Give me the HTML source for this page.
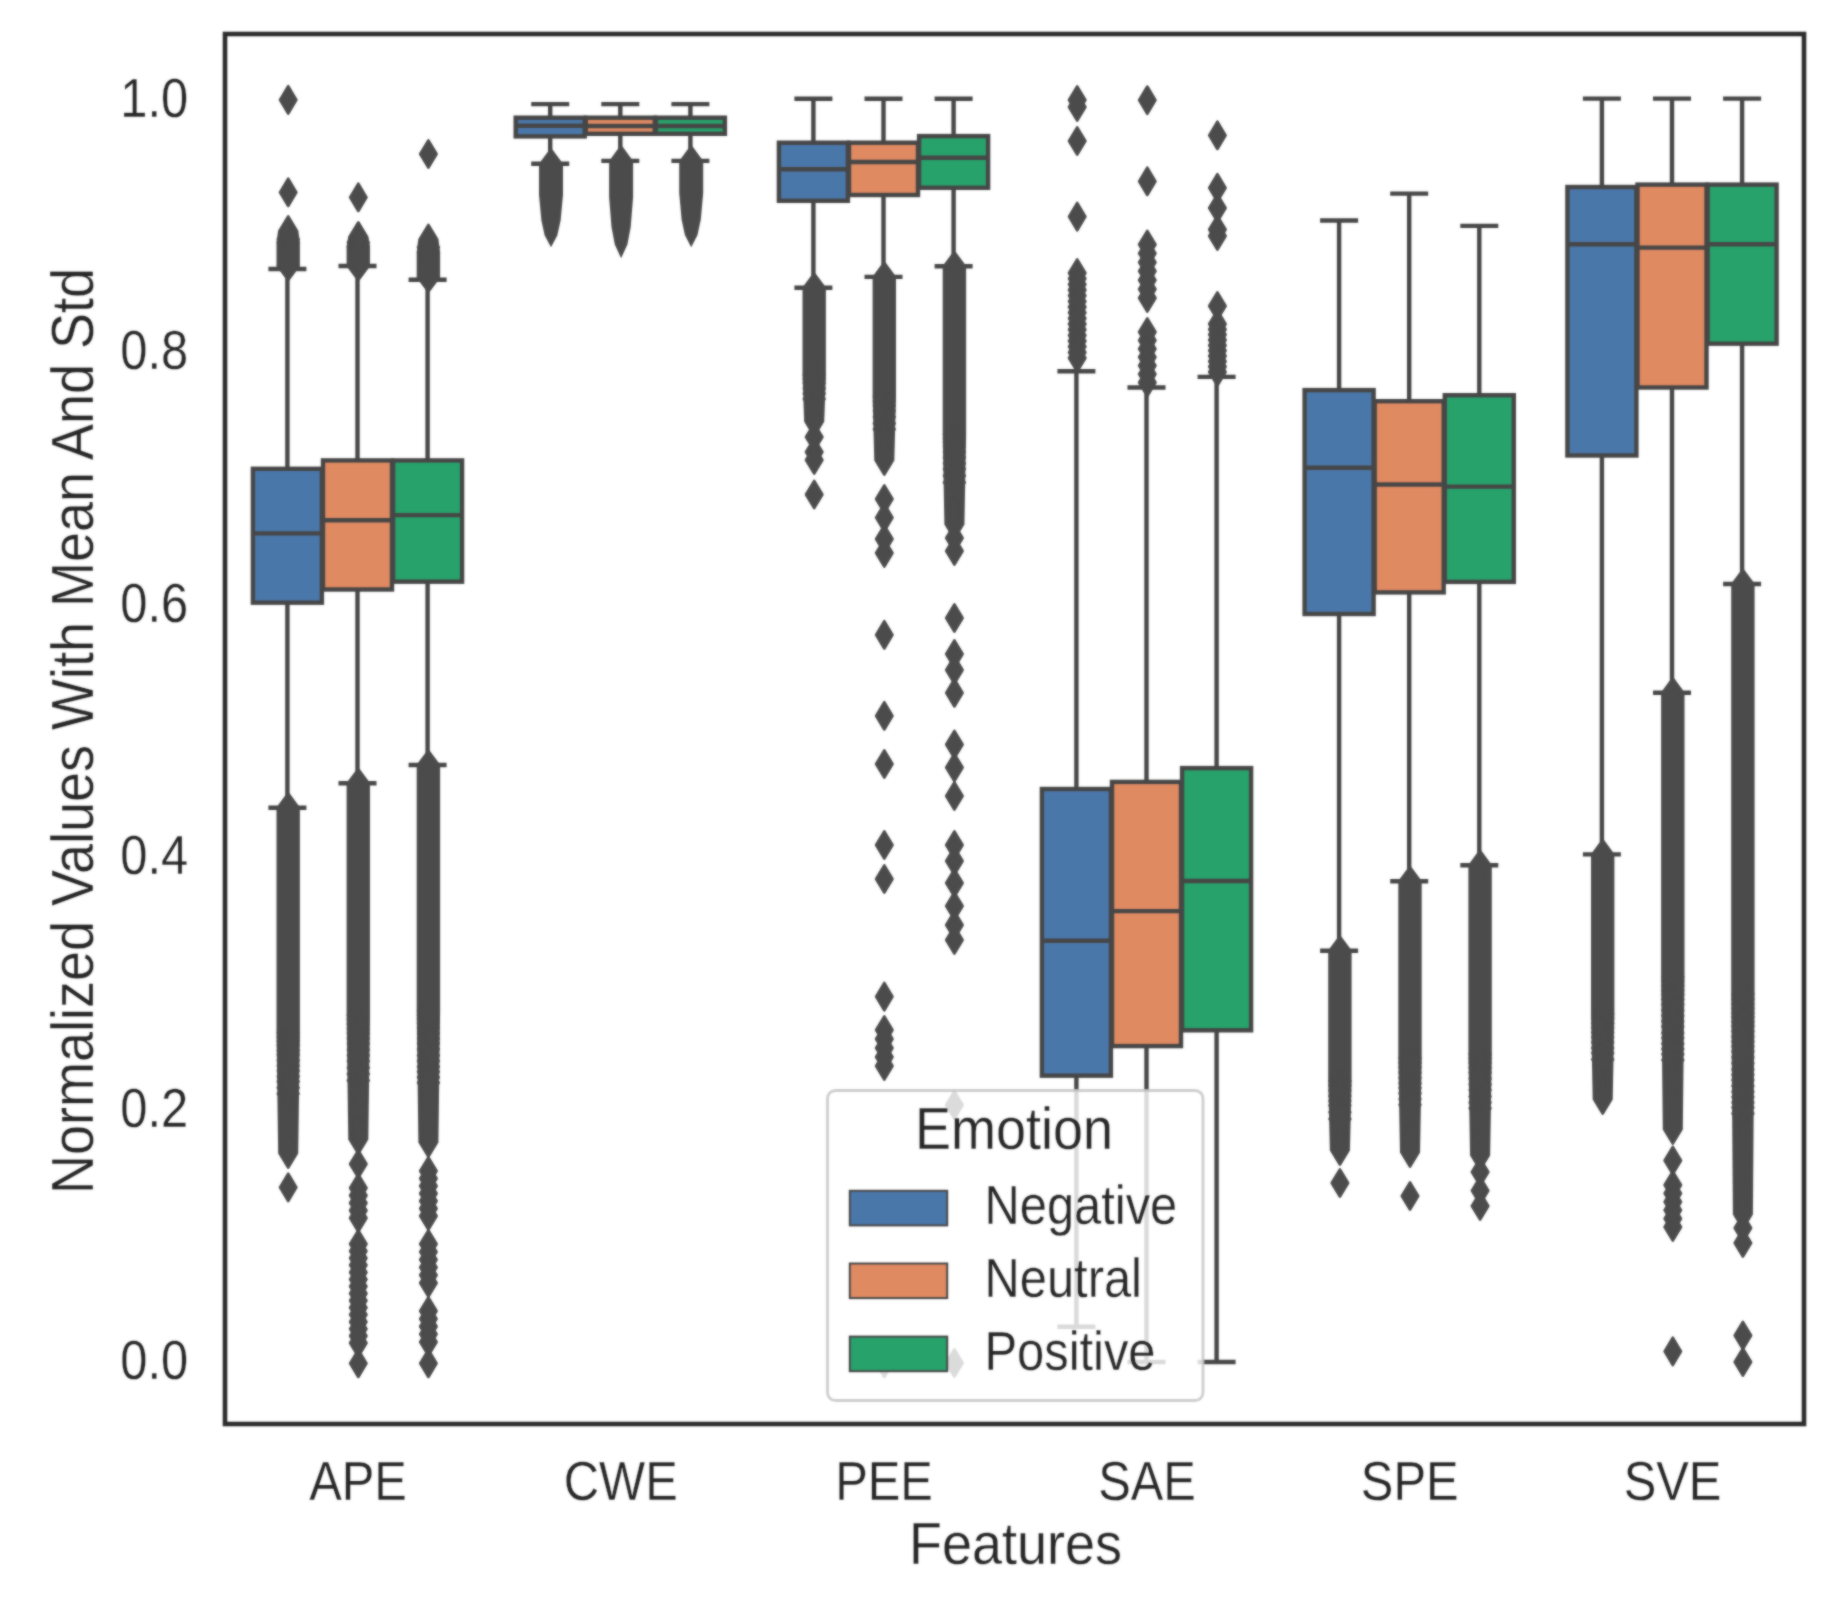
<!DOCTYPE html>
<html lang="en"><head><meta charset="utf-8"><title>Boxplot</title>
<style>
html,body{margin:0;padding:0;background:#ffffff;}
body{width:1847px;height:1602px;overflow:hidden;}
svg{display:block;}
text{font-family:"Liberation Sans",sans-serif;fill:#262626;stroke:#ffffff;stroke-width:0.3px;}
</style></head>
<body>
<svg width="1847" height="1602" viewBox="0 0 1847 1602">
<filter id="soft" color-interpolation-filters="sRGB" filterUnits="userSpaceOnUse" x="0" y="0" width="1847" height="1602"><feGaussianBlur in="SourceGraphic" stdDeviation="0.8" result="b"/><feComposite in="b" in2="SourceGraphic" operator="arithmetic" k1="0" k2="0.65" k3="0.35" k4="0"/></filter>
<g filter="url(#soft)">
<rect width="1847" height="1602" fill="#ffffff"/>
<g id="plot">
<defs><path id="d" d="M0,-13.7 L8.2,0 L0,13.7 L-8.2,0 Z" stroke="#4b4b4b" stroke-width="2.6" stroke-linejoin="round"/><path id="D" d="M0,-14.1 L10.399999999999999,0 L0,14.1 L-10.399999999999999,0 Z" stroke="#4b4b4b" stroke-width="2.6" stroke-linejoin="round"/></defs>
<rect x="252.9" y="468.8" width="69.0" height="133.9" fill="#4a77aa" stroke="#464646" stroke-width="4.4"/>
<rect x="323.0" y="460.4" width="69.0" height="129.1" fill="#e08a62" stroke="#464646" stroke-width="4.4"/>
<rect x="393.1" y="460.4" width="69.0" height="121.3" fill="#27a26b" stroke="#464646" stroke-width="4.4"/>
<rect x="515.7" y="117.7" width="69.0" height="18.7" fill="#4a77aa" stroke="#464646" stroke-width="4.4"/>
<rect x="585.8" y="117.7" width="69.0" height="16.1" fill="#e08a62" stroke="#464646" stroke-width="4.4"/>
<rect x="655.9" y="117.7" width="69.0" height="16.1" fill="#27a26b" stroke="#464646" stroke-width="4.4"/>
<rect x="778.9" y="142.7" width="69.0" height="58.1" fill="#4a77aa" stroke="#464646" stroke-width="4.4"/>
<rect x="849.0" y="142.7" width="69.0" height="52.3" fill="#e08a62" stroke="#464646" stroke-width="4.4"/>
<rect x="919.1" y="136.1" width="69.0" height="51.7" fill="#27a26b" stroke="#464646" stroke-width="4.4"/>
<rect x="1041.9" y="789.0" width="69.0" height="286.7" fill="#4a77aa" stroke="#464646" stroke-width="4.4"/>
<rect x="1112.0" y="781.9" width="69.0" height="264.2" fill="#e08a62" stroke="#464646" stroke-width="4.4"/>
<rect x="1182.1" y="768.1" width="69.0" height="262.2" fill="#27a26b" stroke="#464646" stroke-width="4.4"/>
<rect x="1304.6" y="390.1" width="69.0" height="223.9" fill="#4a77aa" stroke="#464646" stroke-width="4.4"/>
<rect x="1374.7" y="401.2" width="69.0" height="191.2" fill="#e08a62" stroke="#464646" stroke-width="4.4"/>
<rect x="1444.8" y="395.2" width="69.0" height="186.7" fill="#27a26b" stroke="#464646" stroke-width="4.4"/>
<rect x="1567.4" y="187.0" width="69.0" height="268.5" fill="#4a77aa" stroke="#464646" stroke-width="4.4"/>
<rect x="1637.5" y="184.6" width="69.0" height="202.9" fill="#e08a62" stroke="#464646" stroke-width="4.4"/>
<rect x="1707.6" y="184.6" width="69.0" height="159.1" fill="#27a26b" stroke="#464646" stroke-width="4.4"/>
<path d="M287.4,468.8V269.0M287.4,602.7V807.7M268.4,269.0H306.4M268.4,807.7H306.4M252.9,533.4H321.9" fill="none" stroke="#464646" stroke-width="4.4"/>
<path d="M357.5,460.4V266.0M357.5,589.5V783.3M338.5,266.0H376.5M338.5,783.3H376.5M323.0,520.2H392.0" fill="none" stroke="#464646" stroke-width="4.4"/>
<path d="M427.6,460.4V279.7M427.6,581.7V765.0M408.6,279.7H446.6M408.6,765.0H446.6M393.1,515.1H462.1" fill="none" stroke="#464646" stroke-width="4.4"/>
<path d="M550.2,117.7V104.1M550.2,136.4V163.8M531.2,104.1H569.2M531.2,163.8H569.2M515.7,125.8H584.7" fill="none" stroke="#464646" stroke-width="4.4"/>
<path d="M620.3,117.7V104.1M620.3,133.8V160.9M601.3,104.1H639.3M601.3,160.9H639.3M585.8,126.0H654.8" fill="none" stroke="#464646" stroke-width="4.4"/>
<path d="M690.4,117.7V104.1M690.4,133.8V160.9M671.4,104.1H709.4M671.4,160.9H709.4M655.9,126.0H724.9" fill="none" stroke="#464646" stroke-width="4.4"/>
<path d="M813.4,142.7V98.8M813.4,200.8V287.8M794.4,98.8H832.4M794.4,287.8H832.4M778.9,169.2H847.9" fill="none" stroke="#464646" stroke-width="4.4"/>
<path d="M883.5,142.7V98.8M883.5,195.0V276.9M864.5,98.8H902.5M864.5,276.9H902.5M849.0,162.0H918.0" fill="none" stroke="#464646" stroke-width="4.4"/>
<path d="M953.6,136.1V98.8M953.6,187.8V266.3M934.6,98.8H972.6M934.6,266.3H972.6M919.1,157.7H988.1" fill="none" stroke="#464646" stroke-width="4.4"/>
<path d="M1076.4,789.0V371.2M1076.4,1075.7V1326.8M1057.4,371.2H1095.4M1057.4,1326.8H1095.4M1041.9,940.7H1110.9" fill="none" stroke="#464646" stroke-width="4.4"/>
<path d="M1146.5,781.9V387.5M1146.5,1046.1V1362.0M1127.5,387.5H1165.5M1127.5,1362.0H1165.5M1112.0,911.1H1181.0" fill="none" stroke="#464646" stroke-width="4.4"/>
<path d="M1216.6,768.1V376.9M1216.6,1030.3V1362.0M1197.6,376.9H1235.6M1197.6,1362.0H1235.6M1182.1,881.0H1251.1" fill="none" stroke="#464646" stroke-width="4.4"/>
<path d="M1339.1,390.1V220.5M1339.1,614.0V950.8M1320.1,220.5H1358.1M1320.1,950.8H1358.1M1304.6,467.8H1373.6" fill="none" stroke="#464646" stroke-width="4.4"/>
<path d="M1409.2,401.2V193.6M1409.2,592.4V881.3M1390.2,193.6H1428.2M1390.2,881.3H1428.2M1374.7,484.5H1443.7" fill="none" stroke="#464646" stroke-width="4.4"/>
<path d="M1479.3,395.2V225.9M1479.3,581.9V865.2M1460.3,225.9H1498.3M1460.3,865.2H1498.3M1444.8,486.6H1513.8" fill="none" stroke="#464646" stroke-width="4.4"/>
<path d="M1601.9,187.0V98.6M1601.9,455.5V854.4M1582.9,98.6H1620.9M1582.9,854.4H1620.9M1567.4,244.2H1636.4" fill="none" stroke="#464646" stroke-width="4.4"/>
<path d="M1672.0,184.6V98.6M1672.0,387.5V692.7M1653.0,98.6H1691.0M1653.0,692.7H1691.0M1637.5,247.6H1706.5" fill="none" stroke="#464646" stroke-width="4.4"/>
<path d="M1742.1,184.6V98.6M1742.1,343.7V584.0M1723.1,98.6H1761.1M1723.1,584.0H1761.1M1707.6,244.2H1776.6" fill="none" stroke="#464646" stroke-width="4.4"/>
<g fill="#4b4b4b">
<use href="#d" x="288.2" y="99.9"/>
<use href="#d" x="288.2" y="192.3"/>
<polygon points="276.5,266.0 299.9,266.0 299.9,242.6 298.2,230.0 278.2,230.0 276.5,242.6"/>
<use href="#D" x="288.2" y="266.0"/>
<use href="#D" x="288.2" y="242.6"/>
<use href="#D" x="288.2" y="238.9"/>
<use href="#d" x="288.2" y="233.8"/>
<use href="#d" x="288.2" y="230.0"/>
<polygon points="276.5,807.7 299.9,807.7 299.9,1032.8 298.2,1154.0 278.2,1154.0 276.5,1032.8"/>
<use href="#D" x="288.2" y="807.7"/>
<use href="#D" x="288.2" y="1032.8"/>
<use href="#D" x="288.2" y="1037.1"/>
<use href="#D" x="288.2" y="1041.3"/>
<use href="#D" x="288.2" y="1045.2"/>
<use href="#D" x="288.2" y="1050.4"/>
<use href="#D" x="288.2" y="1054.7"/>
<use href="#D" x="288.2" y="1060.5"/>
<use href="#D" x="288.2" y="1065.7"/>
<use href="#D" x="288.2" y="1070.8"/>
<use href="#D" x="288.2" y="1076.5"/>
<use href="#D" x="288.2" y="1081.4"/>
<use href="#D" x="288.2" y="1087.7"/>
<use href="#D" x="288.2" y="1093.7"/>
<use href="#d" x="288.2" y="1100.2"/>
<use href="#d" x="288.2" y="1106.4"/>
<use href="#d" x="288.2" y="1112.2"/>
<use href="#d" x="288.2" y="1119.6"/>
<use href="#d" x="288.2" y="1126.8"/>
<use href="#d" x="288.2" y="1134.1"/>
<use href="#d" x="288.2" y="1143.2"/>
<use href="#d" x="288.2" y="1150.9"/>
<use href="#d" x="288.2" y="1154.0"/>
<use href="#d" x="288.2" y="1187.4"/>
<use href="#d" x="358.3" y="197.3"/>
<polygon points="346.6,266.0 370.0,266.0 370.0,246.5 368.3,236.0 348.3,236.0 346.6,246.5"/>
<use href="#D" x="358.3" y="266.0"/>
<use href="#D" x="358.3" y="246.5"/>
<use href="#D" x="358.3" y="242.6"/>
<use href="#d" x="358.3" y="236.7"/>
<use href="#d" x="358.3" y="236.0"/>
<polygon points="346.6,783.3 370.0,783.3 370.0,1015.2 368.3,1140.0 348.3,1140.0 346.6,1015.2"/>
<use href="#D" x="358.3" y="783.3"/>
<use href="#D" x="358.3" y="1015.2"/>
<use href="#D" x="358.3" y="1019.4"/>
<use href="#D" x="358.3" y="1024.0"/>
<use href="#D" x="358.3" y="1028.7"/>
<use href="#D" x="358.3" y="1033.3"/>
<use href="#D" x="358.3" y="1038.4"/>
<use href="#D" x="358.3" y="1043.5"/>
<use href="#D" x="358.3" y="1049.7"/>
<use href="#D" x="358.3" y="1055.4"/>
<use href="#D" x="358.3" y="1061.0"/>
<use href="#D" x="358.3" y="1067.8"/>
<use href="#D" x="358.3" y="1074.0"/>
<use href="#D" x="358.3" y="1080.5"/>
<use href="#d" x="358.3" y="1086.3"/>
<use href="#d" x="358.3" y="1091.9"/>
<use href="#d" x="358.3" y="1098.6"/>
<use href="#d" x="358.3" y="1104.7"/>
<use href="#d" x="358.3" y="1112.5"/>
<use href="#d" x="358.3" y="1119.2"/>
<use href="#d" x="358.3" y="1127.9"/>
<use href="#d" x="358.3" y="1137.6"/>
<use href="#d" x="358.3" y="1140.0"/>
<use href="#d" x="358.3" y="1164.0"/>
<use href="#d" x="358.3" y="1188.0"/>
<use href="#d" x="358.3" y="1195.5"/>
<use href="#d" x="358.3" y="1203.0"/>
<use href="#d" x="358.3" y="1210.5"/>
<use href="#d" x="358.3" y="1218.0"/>
<use href="#d" x="358.3" y="1244.0"/>
<use href="#d" x="358.3" y="1251.1"/>
<use href="#d" x="358.3" y="1258.1"/>
<use href="#d" x="358.3" y="1265.2"/>
<use href="#d" x="358.3" y="1272.3"/>
<use href="#d" x="358.3" y="1279.4"/>
<use href="#d" x="358.3" y="1286.4"/>
<use href="#d" x="358.3" y="1293.5"/>
<use href="#d" x="358.3" y="1300.6"/>
<use href="#d" x="358.3" y="1307.6"/>
<use href="#d" x="358.3" y="1314.7"/>
<use href="#d" x="358.3" y="1321.8"/>
<use href="#d" x="358.3" y="1328.9"/>
<use href="#d" x="358.3" y="1335.9"/>
<use href="#d" x="358.3" y="1343.0"/>
<use href="#d" x="358.3" y="1363.3"/>
<use href="#d" x="428.4" y="154.0"/>
<polygon points="416.7,277.5 440.1,277.5 440.1,252.2 438.4,238.5 418.4,238.5 416.7,252.2"/>
<use href="#D" x="428.4" y="277.5"/>
<use href="#D" x="428.4" y="252.2"/>
<use href="#D" x="428.4" y="247.3"/>
<use href="#d" x="428.4" y="241.5"/>
<use href="#d" x="428.4" y="238.5"/>
<polygon points="416.7,765.0 440.1,765.0 440.1,1010.7 438.4,1143.0 418.4,1143.0 416.7,1010.7"/>
<use href="#D" x="428.4" y="765.0"/>
<use href="#D" x="428.4" y="1010.7"/>
<use href="#D" x="428.4" y="1014.9"/>
<use href="#D" x="428.4" y="1019.0"/>
<use href="#D" x="428.4" y="1023.3"/>
<use href="#D" x="428.4" y="1028.0"/>
<use href="#D" x="428.4" y="1033.3"/>
<use href="#D" x="428.4" y="1038.5"/>
<use href="#D" x="428.4" y="1043.2"/>
<use href="#D" x="428.4" y="1049.2"/>
<use href="#D" x="428.4" y="1055.6"/>
<use href="#D" x="428.4" y="1061.1"/>
<use href="#D" x="428.4" y="1066.8"/>
<use href="#D" x="428.4" y="1071.8"/>
<use href="#D" x="428.4" y="1077.2"/>
<use href="#D" x="428.4" y="1082.8"/>
<use href="#d" x="428.4" y="1088.1"/>
<use href="#d" x="428.4" y="1094.1"/>
<use href="#d" x="428.4" y="1100.9"/>
<use href="#d" x="428.4" y="1107.9"/>
<use href="#d" x="428.4" y="1114.7"/>
<use href="#d" x="428.4" y="1121.6"/>
<use href="#d" x="428.4" y="1131.2"/>
<use href="#d" x="428.4" y="1139.4"/>
<use href="#d" x="428.4" y="1143.0"/>
<use href="#d" x="428.4" y="1171.0"/>
<use href="#d" x="428.4" y="1178.5"/>
<use href="#d" x="428.4" y="1186.0"/>
<use href="#d" x="428.4" y="1193.5"/>
<use href="#d" x="428.4" y="1201.0"/>
<use href="#d" x="428.4" y="1208.5"/>
<use href="#d" x="428.4" y="1216.0"/>
<use href="#d" x="428.4" y="1244.0"/>
<use href="#d" x="428.4" y="1251.8"/>
<use href="#d" x="428.4" y="1259.6"/>
<use href="#d" x="428.4" y="1267.4"/>
<use href="#d" x="428.4" y="1275.2"/>
<use href="#d" x="428.4" y="1283.0"/>
<use href="#d" x="428.4" y="1311.0"/>
<use href="#d" x="428.4" y="1318.8"/>
<use href="#d" x="428.4" y="1326.5"/>
<use href="#d" x="428.4" y="1334.2"/>
<use href="#d" x="428.4" y="1342.0"/>
<use href="#d" x="428.4" y="1363.3"/>
<polygon points="563.0,163.8 563.0,194.7 560.6,220.5 557.3,235.5 551.0,247.2 551.0,247.2 544.7,235.5 541.4,220.5 539.0,194.7 539.0,163.8"/>
<use href="#D" x="551.0" y="163.8"/>
<polygon points="633.1,160.9 633.1,196.9 630.7,227.1 627.4,244.6 621.1,258.2 621.1,258.2 614.8,244.6 611.5,227.1 609.1,196.9 609.1,160.9"/>
<use href="#D" x="621.1" y="160.9"/>
<polygon points="703.2,160.9 703.2,192.8 700.8,219.6 697.5,235.1 691.2,247.2 691.2,247.2 684.9,235.1 681.6,219.6 679.2,192.8 679.2,160.9"/>
<use href="#D" x="691.2" y="160.9"/>
<polygon points="802.5,287.8 825.9,287.8 825.9,375.0 824.2,422.0 804.2,422.0 802.5,375.0"/>
<use href="#D" x="814.2" y="287.8"/>
<use href="#D" x="814.2" y="375.0"/>
<use href="#D" x="814.2" y="378.9"/>
<use href="#D" x="814.2" y="383.1"/>
<use href="#D" x="814.2" y="388.6"/>
<use href="#D" x="814.2" y="393.6"/>
<use href="#D" x="814.2" y="399.0"/>
<use href="#d" x="814.2" y="406.3"/>
<use href="#d" x="814.2" y="414.6"/>
<use href="#d" x="814.2" y="421.8"/>
<use href="#d" x="814.2" y="422.0"/>
<use href="#d" x="814.2" y="437.0"/>
<use href="#d" x="814.2" y="452.0"/>
<use href="#d" x="814.2" y="460.0"/>
<use href="#d" x="814.2" y="494.5"/>
<polygon points="872.6,276.9 896.0,276.9 896.0,396.6 894.3,461.0 874.3,461.0 872.6,396.6"/>
<use href="#D" x="884.3" y="276.9"/>
<use href="#D" x="884.3" y="396.6"/>
<use href="#D" x="884.3" y="401.2"/>
<use href="#D" x="884.3" y="405.4"/>
<use href="#D" x="884.3" y="411.1"/>
<use href="#D" x="884.3" y="417.0"/>
<use href="#D" x="884.3" y="423.4"/>
<use href="#D" x="884.3" y="429.2"/>
<use href="#d" x="884.3" y="434.8"/>
<use href="#d" x="884.3" y="440.5"/>
<use href="#d" x="884.3" y="447.7"/>
<use href="#d" x="884.3" y="456.5"/>
<use href="#d" x="884.3" y="461.0"/>
<use href="#d" x="884.3" y="499.0"/>
<use href="#d" x="884.3" y="517.6"/>
<use href="#d" x="884.3" y="539.0"/>
<use href="#d" x="884.3" y="553.0"/>
<use href="#d" x="884.3" y="634.8"/>
<use href="#d" x="884.3" y="715.8"/>
<use href="#d" x="884.3" y="764.0"/>
<use href="#d" x="884.3" y="845.0"/>
<use href="#d" x="884.3" y="879.0"/>
<use href="#d" x="884.3" y="996.6"/>
<use href="#d" x="884.3" y="1030.0"/>
<use href="#d" x="884.3" y="1039.0"/>
<use href="#d" x="884.3" y="1048.0"/>
<use href="#d" x="884.3" y="1057.0"/>
<use href="#d" x="884.3" y="1066.0"/>
<use href="#d" x="884.3" y="1363.3"/>
<polygon points="942.7,266.3 966.1,266.3 966.1,434.5 964.4,525.0 944.4,525.0 942.7,434.5"/>
<use href="#D" x="954.4" y="266.3"/>
<use href="#D" x="954.4" y="434.5"/>
<use href="#D" x="954.4" y="438.5"/>
<use href="#D" x="954.4" y="442.5"/>
<use href="#D" x="954.4" y="446.6"/>
<use href="#D" x="954.4" y="452.1"/>
<use href="#D" x="954.4" y="457.4"/>
<use href="#D" x="954.4" y="463.4"/>
<use href="#D" x="954.4" y="468.9"/>
<use href="#D" x="954.4" y="475.8"/>
<use href="#D" x="954.4" y="482.4"/>
<use href="#d" x="954.4" y="488.9"/>
<use href="#d" x="954.4" y="496.1"/>
<use href="#d" x="954.4" y="504.2"/>
<use href="#d" x="954.4" y="512.3"/>
<use href="#d" x="954.4" y="520.5"/>
<use href="#d" x="954.4" y="525.0"/>
<use href="#d" x="954.4" y="538.0"/>
<use href="#d" x="954.4" y="551.0"/>
<use href="#d" x="954.4" y="618.0"/>
<use href="#d" x="954.4" y="654.0"/>
<use href="#d" x="954.4" y="670.0"/>
<use href="#d" x="954.4" y="692.8"/>
<use href="#d" x="954.4" y="744.5"/>
<use href="#d" x="954.4" y="767.5"/>
<use href="#d" x="954.4" y="796.0"/>
<use href="#d" x="954.4" y="845.0"/>
<use href="#d" x="954.4" y="861.0"/>
<use href="#d" x="954.4" y="883.0"/>
<use href="#d" x="954.4" y="906.0"/>
<use href="#d" x="954.4" y="925.0"/>
<use href="#d" x="954.4" y="940.0"/>
<use href="#d" x="954.4" y="1105.0"/>
<use href="#d" x="954.4" y="1363.0"/>
<use href="#d" x="1077.2" y="100.0"/>
<use href="#d" x="1077.2" y="107.0"/>
<use href="#d" x="1077.2" y="141.0"/>
<use href="#d" x="1077.2" y="216.6"/>
<use href="#d" x="1077.2" y="273.0"/>
<use href="#d" x="1077.2" y="278.7"/>
<use href="#d" x="1077.2" y="284.3"/>
<use href="#d" x="1077.2" y="290.0"/>
<use href="#d" x="1077.2" y="295.7"/>
<use href="#d" x="1077.2" y="301.3"/>
<use href="#d" x="1077.2" y="307.0"/>
<use href="#d" x="1077.2" y="312.7"/>
<use href="#d" x="1077.2" y="318.3"/>
<use href="#d" x="1077.2" y="324.0"/>
<use href="#d" x="1077.2" y="329.7"/>
<use href="#d" x="1077.2" y="335.3"/>
<use href="#d" x="1077.2" y="341.0"/>
<use href="#d" x="1077.2" y="346.7"/>
<use href="#d" x="1077.2" y="352.3"/>
<use href="#d" x="1077.2" y="358.0"/>
<use href="#d" x="1147.3" y="100.2"/>
<use href="#d" x="1147.3" y="181.3"/>
<use href="#d" x="1147.3" y="244.5"/>
<use href="#d" x="1147.3" y="253.4"/>
<use href="#d" x="1147.3" y="262.3"/>
<use href="#d" x="1147.3" y="271.2"/>
<use href="#d" x="1147.3" y="280.2"/>
<use href="#d" x="1147.3" y="289.1"/>
<use href="#d" x="1147.3" y="298.0"/>
<use href="#d" x="1147.3" y="332.0"/>
<use href="#d" x="1147.3" y="340.4"/>
<use href="#d" x="1147.3" y="348.8"/>
<use href="#d" x="1147.3" y="357.2"/>
<use href="#d" x="1147.3" y="365.7"/>
<use href="#d" x="1147.3" y="374.1"/>
<use href="#d" x="1147.3" y="382.5"/>
<use href="#d" x="1217.4" y="135.3"/>
<use href="#d" x="1217.4" y="187.9"/>
<use href="#d" x="1217.4" y="208.0"/>
<use href="#d" x="1217.4" y="229.5"/>
<use href="#d" x="1217.4" y="236.0"/>
<use href="#d" x="1217.4" y="306.0"/>
<use href="#d" x="1217.4" y="324.0"/>
<use href="#d" x="1217.4" y="329.3"/>
<use href="#d" x="1217.4" y="334.7"/>
<use href="#d" x="1217.4" y="340.0"/>
<use href="#d" x="1217.4" y="345.3"/>
<use href="#d" x="1217.4" y="350.7"/>
<use href="#d" x="1217.4" y="356.0"/>
<use href="#d" x="1217.4" y="361.3"/>
<use href="#d" x="1217.4" y="366.7"/>
<use href="#d" x="1217.4" y="372.0"/>
<polygon points="1328.2,950.8 1351.6,950.8 1351.6,1080.9 1349.9,1151.0 1329.9,1151.0 1328.2,1080.9"/>
<use href="#D" x="1339.9" y="950.8"/>
<use href="#D" x="1339.9" y="1080.9"/>
<use href="#D" x="1339.9" y="1085.6"/>
<use href="#D" x="1339.9" y="1090.6"/>
<use href="#D" x="1339.9" y="1095.9"/>
<use href="#D" x="1339.9" y="1101.1"/>
<use href="#D" x="1339.9" y="1105.6"/>
<use href="#D" x="1339.9" y="1112.2"/>
<use href="#D" x="1339.9" y="1119.1"/>
<use href="#d" x="1339.9" y="1126.3"/>
<use href="#d" x="1339.9" y="1133.6"/>
<use href="#d" x="1339.9" y="1140.4"/>
<use href="#d" x="1339.9" y="1147.9"/>
<use href="#d" x="1339.9" y="1151.0"/>
<use href="#d" x="1339.9" y="1183.0"/>
<polygon points="1398.3,881.3 1421.7,881.3 1421.7,1057.9 1420.0,1153.0 1400.0,1153.0 1398.3,1057.9"/>
<use href="#D" x="1410.0" y="881.3"/>
<use href="#D" x="1410.0" y="1057.9"/>
<use href="#D" x="1410.0" y="1062.8"/>
<use href="#D" x="1410.0" y="1067.2"/>
<use href="#D" x="1410.0" y="1072.5"/>
<use href="#D" x="1410.0" y="1078.0"/>
<use href="#D" x="1410.0" y="1083.3"/>
<use href="#D" x="1410.0" y="1088.0"/>
<use href="#D" x="1410.0" y="1093.2"/>
<use href="#D" x="1410.0" y="1099.0"/>
<use href="#D" x="1410.0" y="1104.7"/>
<use href="#d" x="1410.0" y="1111.6"/>
<use href="#d" x="1410.0" y="1118.1"/>
<use href="#d" x="1410.0" y="1125.7"/>
<use href="#d" x="1410.0" y="1132.4"/>
<use href="#d" x="1410.0" y="1139.3"/>
<use href="#d" x="1410.0" y="1148.1"/>
<use href="#d" x="1410.0" y="1153.0"/>
<use href="#d" x="1410.0" y="1196.0"/>
<polygon points="1468.4,865.2 1491.8,865.2 1491.8,1054.2 1490.1,1156.0 1470.1,1156.0 1468.4,1054.2"/>
<use href="#D" x="1480.1" y="865.2"/>
<use href="#D" x="1480.1" y="1054.2"/>
<use href="#D" x="1480.1" y="1058.4"/>
<use href="#D" x="1480.1" y="1062.8"/>
<use href="#D" x="1480.1" y="1067.8"/>
<use href="#D" x="1480.1" y="1072.6"/>
<use href="#D" x="1480.1" y="1078.4"/>
<use href="#D" x="1480.1" y="1084.4"/>
<use href="#D" x="1480.1" y="1090.0"/>
<use href="#D" x="1480.1" y="1096.6"/>
<use href="#D" x="1480.1" y="1102.6"/>
<use href="#D" x="1480.1" y="1108.3"/>
<use href="#d" x="1480.1" y="1113.9"/>
<use href="#d" x="1480.1" y="1120.3"/>
<use href="#d" x="1480.1" y="1128.6"/>
<use href="#d" x="1480.1" y="1135.7"/>
<use href="#d" x="1480.1" y="1143.4"/>
<use href="#d" x="1480.1" y="1153.3"/>
<use href="#d" x="1480.1" y="1156.0"/>
<use href="#d" x="1480.1" y="1172.0"/>
<use href="#d" x="1480.1" y="1190.6"/>
<use href="#d" x="1480.1" y="1206.0"/>
<polygon points="1591.0,854.4 1614.4,854.4 1614.4,1014.0 1612.7,1100.0 1592.7,1100.0 1591.0,1014.0"/>
<use href="#D" x="1602.7" y="854.4"/>
<use href="#D" x="1602.7" y="1014.0"/>
<use href="#D" x="1602.7" y="1018.3"/>
<use href="#D" x="1602.7" y="1023.3"/>
<use href="#D" x="1602.7" y="1027.8"/>
<use href="#D" x="1602.7" y="1032.6"/>
<use href="#D" x="1602.7" y="1037.3"/>
<use href="#D" x="1602.7" y="1042.3"/>
<use href="#D" x="1602.7" y="1047.9"/>
<use href="#D" x="1602.7" y="1053.1"/>
<use href="#D" x="1602.7" y="1059.6"/>
<use href="#d" x="1602.7" y="1066.3"/>
<use href="#d" x="1602.7" y="1074.5"/>
<use href="#d" x="1602.7" y="1080.8"/>
<use href="#d" x="1602.7" y="1087.8"/>
<use href="#d" x="1602.7" y="1094.8"/>
<use href="#d" x="1602.7" y="1100.0"/>
<polygon points="1661.1,692.7 1684.5,692.7 1684.5,976.9 1682.8,1130.0 1662.8,1130.0 1661.1,976.9"/>
<use href="#D" x="1672.8" y="692.7"/>
<use href="#D" x="1672.8" y="976.9"/>
<use href="#D" x="1672.8" y="980.8"/>
<use href="#D" x="1672.8" y="985.8"/>
<use href="#D" x="1672.8" y="990.6"/>
<use href="#D" x="1672.8" y="994.5"/>
<use href="#D" x="1672.8" y="999.2"/>
<use href="#D" x="1672.8" y="1004.6"/>
<use href="#D" x="1672.8" y="1010.2"/>
<use href="#D" x="1672.8" y="1015.7"/>
<use href="#D" x="1672.8" y="1021.3"/>
<use href="#D" x="1672.8" y="1026.6"/>
<use href="#D" x="1672.8" y="1033.0"/>
<use href="#D" x="1672.8" y="1038.0"/>
<use href="#D" x="1672.8" y="1043.7"/>
<use href="#D" x="1672.8" y="1048.9"/>
<use href="#D" x="1672.8" y="1054.2"/>
<use href="#D" x="1672.8" y="1060.1"/>
<use href="#d" x="1672.8" y="1066.9"/>
<use href="#d" x="1672.8" y="1073.4"/>
<use href="#d" x="1672.8" y="1079.4"/>
<use href="#d" x="1672.8" y="1085.5"/>
<use href="#d" x="1672.8" y="1093.5"/>
<use href="#d" x="1672.8" y="1100.4"/>
<use href="#d" x="1672.8" y="1108.8"/>
<use href="#d" x="1672.8" y="1117.6"/>
<use href="#d" x="1672.8" y="1126.5"/>
<use href="#d" x="1672.8" y="1130.0"/>
<use href="#d" x="1672.8" y="1160.5"/>
<use href="#d" x="1672.8" y="1185.0"/>
<use href="#d" x="1672.8" y="1193.4"/>
<use href="#d" x="1672.8" y="1201.8"/>
<use href="#d" x="1672.8" y="1210.2"/>
<use href="#d" x="1672.8" y="1218.6"/>
<use href="#d" x="1672.8" y="1227.0"/>
<use href="#d" x="1672.8" y="1351.4"/>
<polygon points="1731.2,584.0 1754.6,584.0 1754.6,994.2 1752.9,1215.0 1732.9,1215.0 1731.2,994.2"/>
<use href="#D" x="1742.9" y="584.0"/>
<use href="#D" x="1742.9" y="994.2"/>
<use href="#D" x="1742.9" y="999.1"/>
<use href="#D" x="1742.9" y="1004.0"/>
<use href="#D" x="1742.9" y="1008.6"/>
<use href="#D" x="1742.9" y="1012.9"/>
<use href="#D" x="1742.9" y="1016.9"/>
<use href="#D" x="1742.9" y="1021.8"/>
<use href="#D" x="1742.9" y="1026.1"/>
<use href="#D" x="1742.9" y="1031.3"/>
<use href="#D" x="1742.9" y="1036.7"/>
<use href="#D" x="1742.9" y="1041.4"/>
<use href="#D" x="1742.9" y="1046.4"/>
<use href="#D" x="1742.9" y="1051.4"/>
<use href="#D" x="1742.9" y="1057.3"/>
<use href="#D" x="1742.9" y="1063.3"/>
<use href="#D" x="1742.9" y="1069.4"/>
<use href="#D" x="1742.9" y="1074.8"/>
<use href="#D" x="1742.9" y="1080.0"/>
<use href="#D" x="1742.9" y="1085.9"/>
<use href="#D" x="1742.9" y="1091.7"/>
<use href="#D" x="1742.9" y="1096.9"/>
<use href="#D" x="1742.9" y="1102.5"/>
<use href="#D" x="1742.9" y="1107.6"/>
<use href="#D" x="1742.9" y="1113.5"/>
<use href="#d" x="1742.9" y="1120.3"/>
<use href="#d" x="1742.9" y="1127.8"/>
<use href="#d" x="1742.9" y="1135.7"/>
<use href="#d" x="1742.9" y="1142.4"/>
<use href="#d" x="1742.9" y="1150.1"/>
<use href="#d" x="1742.9" y="1158.2"/>
<use href="#d" x="1742.9" y="1165.3"/>
<use href="#d" x="1742.9" y="1174.2"/>
<use href="#d" x="1742.9" y="1183.1"/>
<use href="#d" x="1742.9" y="1190.3"/>
<use href="#d" x="1742.9" y="1199.1"/>
<use href="#d" x="1742.9" y="1208.9"/>
<use href="#d" x="1742.9" y="1215.0"/>
<use href="#d" x="1742.9" y="1228.0"/>
<use href="#d" x="1742.9" y="1243.0"/>
<use href="#d" x="1742.9" y="1335.5"/>
<use href="#d" x="1742.9" y="1362.0"/>
</g>
</g>
<rect x="225" y="34" width="1579" height="1390" fill="none" stroke="#2b2b2b" stroke-width="4.6"/>
<g id="labels">
<text transform="translate(188.2,116.5) scale(0.888,1)" text-anchor="end" font-size="55">1.0</text>
<text transform="translate(188.2,369.0) scale(0.888,1)" text-anchor="end" font-size="55">0.8</text>
<text transform="translate(188.2,621.5) scale(0.888,1)" text-anchor="end" font-size="55">0.6</text>
<text transform="translate(188.2,874.0) scale(0.888,1)" text-anchor="end" font-size="55">0.4</text>
<text transform="translate(188.2,1126.5) scale(0.888,1)" text-anchor="end" font-size="55">0.2</text>
<text transform="translate(188.2,1379.0) scale(0.888,1)" text-anchor="end" font-size="55">0.0</text>
<text transform="translate(358.0,1499.5) scale(0.888,1)" text-anchor="middle" font-size="55">APE</text>
<text transform="translate(620.8,1499.5) scale(0.888,1)" text-anchor="middle" font-size="55">CWE</text>
<text transform="translate(884.0,1499.5) scale(0.888,1)" text-anchor="middle" font-size="55">PEE</text>
<text transform="translate(1147.0,1499.5) scale(0.888,1)" text-anchor="middle" font-size="55">SAE</text>
<text transform="translate(1409.7,1499.5) scale(0.888,1)" text-anchor="middle" font-size="55">SPE</text>
<text transform="translate(1672.5,1499.5) scale(0.888,1)" text-anchor="middle" font-size="55">SVE</text>
<text transform="translate(1015.5,1563.5) scale(0.9,1)" text-anchor="middle" font-size="60">Features</text>
<text transform="translate(93,731) rotate(-90) scale(0.9,1)" text-anchor="middle" font-size="60">Normalized Values With Mean And Std</text>
</g>
<g id="legend">
<rect x="827.5" y="1090.5" width="375.5" height="310" rx="8" ry="8" fill="#ffffff" fill-opacity="0.8" stroke="#c6c6c6" stroke-opacity="0.85" stroke-width="2.8"/>
<rect x="849.8" y="1190.8" width="97.4" height="34.6" fill="#4a77aa" stroke="#464646" stroke-width="2"/>
<rect x="849.8" y="1263.5" width="97.4" height="34.6" fill="#e08a62" stroke="#464646" stroke-width="2"/>
<rect x="849.8" y="1336.6" width="97.4" height="34.6" fill="#27a26b" stroke="#464646" stroke-width="2"/>
<text transform="translate(984.5,1224) scale(0.888,1)" text-anchor="start" font-size="55">Negative</text>
<text transform="translate(984.5,1297) scale(0.888,1)" text-anchor="start" font-size="55">Neutral</text>
<text transform="translate(984.5,1369.7) scale(0.888,1)" text-anchor="start" font-size="55">Positive</text>
<text transform="translate(1014,1148.6) scale(0.9,1)" text-anchor="middle" font-size="60">Emotion</text>
</g>
</g>
</svg>
</body></html>
